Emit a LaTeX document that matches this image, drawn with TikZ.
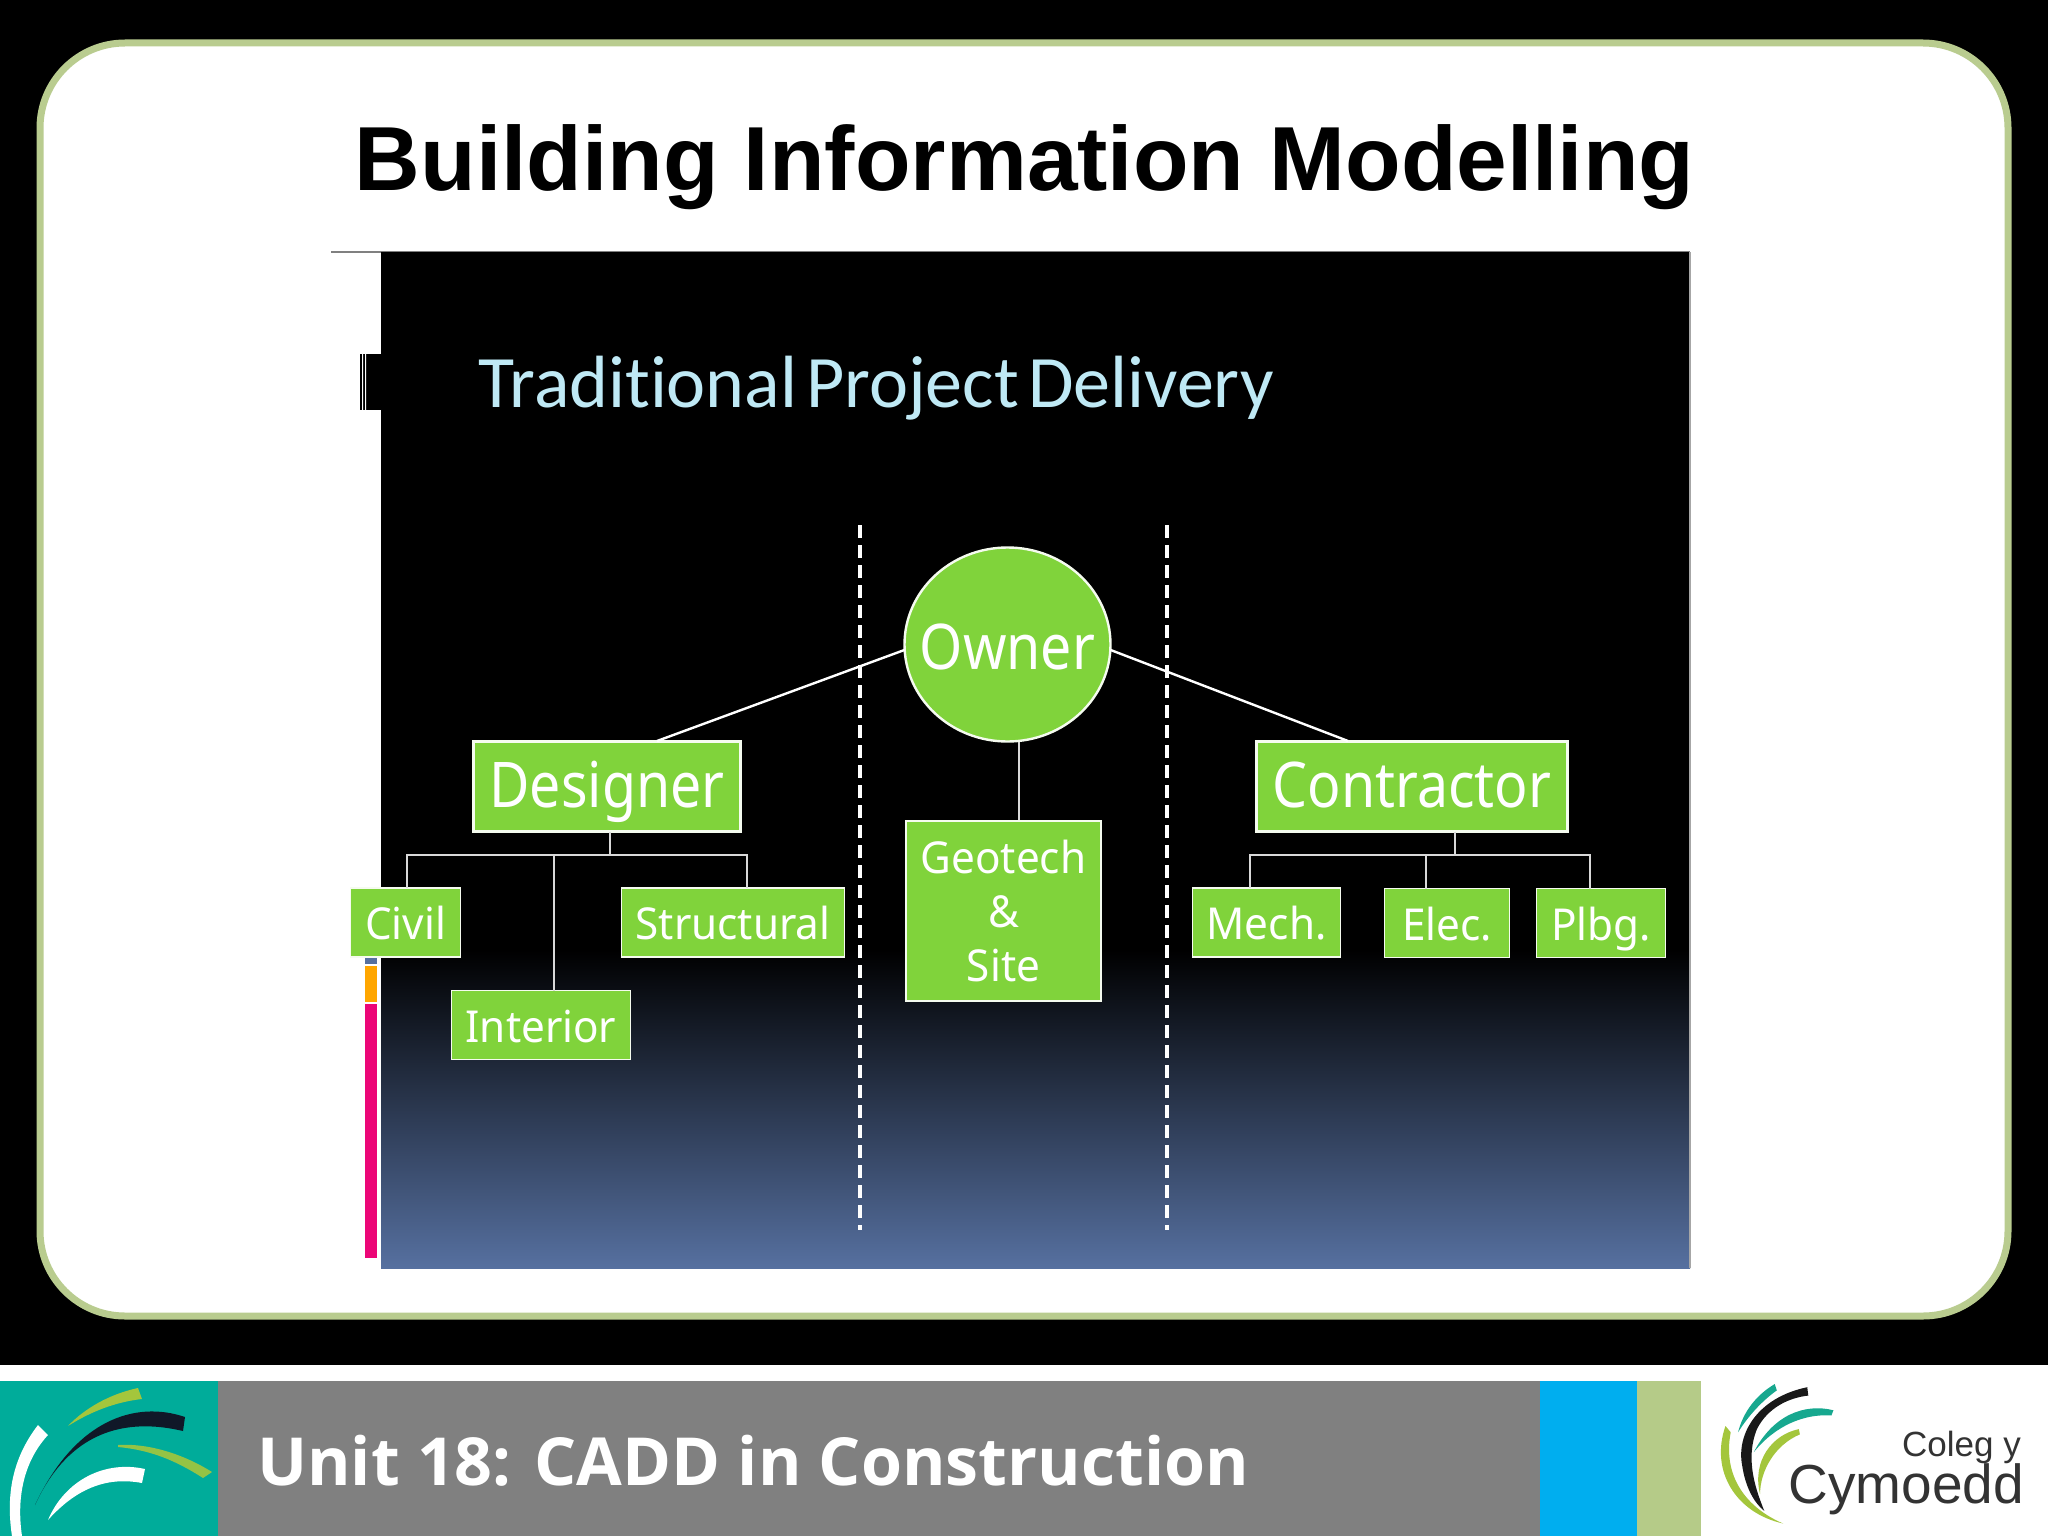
\documentclass[tikz,border=0pt]{standalone}
\usepackage{fontspec}
\usetikzlibrary{shapes.geometric}
\setmainfont{Liberation Sans}
\newfontfamily\boxfont[FakeStretch=0.96]{Noto Sans}
\newfontfamily\bigboxfont[FakeStretch=0.88]{Noto Sans}
\newfontfamily\headfont[Ligatures=NoCommon,WordSpace=0.55]{Carlito}
\newfontfamily\footfont{Open Sans}
\definecolor{panelline}{HTML}{B9CC8F}
\definecolor{boxgreen}{HTML}{80D33B}
\definecolor{paleblue}{HTML}{BFE9F5}
\definecolor{slidebot}{HTML}{5670A0}
\definecolor{teal}{HTML}{00AC9A}
\definecolor{footgray}{HTML}{808080}
\definecolor{footblue}{HTML}{00AEEF}
\definecolor{footgreen}{HTML}{B5CB88}
\definecolor{lime}{HTML}{A4C63C}
\definecolor{darkink}{HTML}{101828}
\definecolor{logoteal}{HTML}{17A88F}
\pgfdeclareverticalshading{slidegrad}{100bp}{color(0bp)=(slidebot); color(25bp)=(slidebot); color(75bp)=(black); color(100bp)=(black)}
\tikzset{
  box/.style={draw=white!92!boxgreen,fill=boxgreen,line width=1.8pt,text=white,inner sep=0pt,outer sep=0pt,align=center},
  bigbox/.style={box,line width=2.8pt,font=\bigboxfont\fontsize{63}{70}\selectfont,text height=41pt,text depth=0pt},
  smallbox/.style={box,font=\boxfont\fontsize{44}{54}\selectfont,text height=34pt,text depth=0pt},
  tallbox/.style={box,font=\boxfont\fontsize{44}{54}\selectfont},
  link/.style={draw=white,line width=2.4pt},
  thinlink/.style={draw=white!85!black,line width=2pt},
  divider/.style={draw=white,line width=3.2pt,dash pattern=on 13pt off 7pt},
}
\begin{document}
\begin{tikzpicture}[x=1pt,y=-1pt]
\useasboundingbox (0,0) rectangle (2048,1536);
\fill[black] (0,0) rectangle (2048,1536);
% panel
\draw[panelline,fill=white,line width=7pt,rounded corners=85pt] (40,43) rectangle (2008,1316);
\node[font=\bfseries\fontsize{91}{100}\selectfont,text=black,inner sep=0pt] (title) at (1024.5,167) {Building Information Modelling};
% embedded slide
\draw[gray,line width=1.5pt] (331,252) -- (1690,252);
\fill[black] (381,252) rectangle (1690,951);
\shade[shading=slidegrad] (381,950) rectangle (1690,1268);
\fill[gray!70] (1688.5,252) rectangle (1690.5,1268);
\fill[black] (360,354) rectangle (381,410);
\fill[white] (362,354) rectangle (363,410) (365,354) rectangle (366,410);
\fill[slidebot] (365,957) rectangle (377,964);
\fill[orange!70!yellow] (365,966) rectangle (377,1002);
\fill[magenta!80!red] (365,1004) rectangle (377,1258);
\node[font=\headfont\fontsize{74}{80}\selectfont,text=paleblue,inner sep=0pt,anchor=base west] (slidehead) at (478,407) {Traditional Project Delivery};
% dividers
\coordinate (dl1) at (860,525); \coordinate (dl2) at (860,1230);
\coordinate (dr1) at (1167,525); \coordinate (dr2) at (1167,1230);
\draw[divider] (dl1) -- (dl2);
\draw[divider] (dr1) -- (dr2);
% nodes
\node[bigbox,ellipse,minimum width=206pt,minimum height=194pt,line width=2.4pt,text height=50pt] (owner) at (1007.5,644.5) {\makebox[0pt]{Owner}};
\node[bigbox,minimum width=267pt,minimum height=90pt] (designer) at (607,786.5) {Designer};
\node[bigbox,minimum width=311pt,minimum height=90pt] (contractor) at (1412,786.5) {Contractor};
\node[tallbox,minimum width=195pt,minimum height=180pt] (geotech) at (1003.5,911) {Geotech\\\&\\Site};
\node[smallbox,minimum width=110pt,minimum height=69pt] (civil) at (405.5,922.5) {Civil};
\node[smallbox,minimum width=223pt,minimum height=69pt] (structural) at (733,922.5) {Structural};
\node[smallbox,minimum width=179pt,minimum height=69pt] (interior) at (541,1025) {Interior};
\node[smallbox,minimum width=148pt,minimum height=69pt] (mech) at (1266.5,922.5) {Mech.};
\node[smallbox,minimum width=125pt,minimum height=69pt] (elec) at (1447,923) {Elec.};
\node[smallbox,minimum width=129pt,minimum height=69pt] (plbg) at (1601,923) {Plbg.};
% connectors
\coordinate (dtop) at (657,741);
\coordinate (ctop) at (1348,741);
\coordinate (dbus) at (610,855);
\coordinate (cbus) at (1455,855);
\coordinate (bc) at (407,855);
\coordinate (bi) at (554,855);
\coordinate (bs) at (747,855);
\coordinate (bm) at (1250,855);
\coordinate (be) at (1426,855);
\coordinate (bp) at (1590,855);
\coordinate (gstem) at (1019,820);
\draw[link] (owner.183) -- (dtop);
\draw[link] (owner.357) -- (ctop);
\draw[thinlink] (gstem |- owner.south) -- (gstem);
\draw[thinlink] (dbus |- designer.south) -- (dbus);
\draw[thinlink] (bc |- civil.north) -- (bc) -- (bs) -- (bs |- structural.north);
\draw[thinlink] (bi) -- (bi |- interior.north);
\draw[thinlink] (cbus |- contractor.south) -- (cbus);
\draw[thinlink] (bm |- mech.north) -- (bm) -- (bp) -- (bp |- plbg.north);
\draw[thinlink] (be) -- (be |- elec.north);
% footer
\fill[white] (0,1365) rectangle (2048,1536);
\fill[teal] (0,1381) rectangle (218,1536);
\fill[footgray] (218,1381) rectangle (1540,1536);
\fill[footblue] (1540,1381) rectangle (1637,1536);
\fill[footgreen] (1637,1381) rectangle (1701,1536);
\node[font=\footfont\bfseries\fontsize{66.3}{80}\selectfont,text=white,inner sep=0pt,anchor=base west] (foot) at (257,1485) {Unit 18: CADD in Construction};
% left logo
\begin{scope}
\clip (0,1381) rectangle (218,1536);
\fill[white] (38,1425) .. controls (15,1455) and (5,1490) .. (12,1536) -- (22,1536) .. controls (16,1495) and (25,1460) .. (48,1435) -- cycle;
\fill[darkink] (185,1417) .. controls (135,1400) and (75,1420) .. (35,1505) .. controls (65,1440) and (115,1415) .. (183,1431) -- cycle;
\fill[lime] (138,1388) .. controls (110,1394) and (85,1408) .. (68,1426) .. controls (90,1412) and (115,1402) .. (142,1399) -- cycle;
\fill[lime!90!teal] (118,1445) .. controls (150,1443) and (185,1455) .. (212,1472) -- (203,1478) .. controls (175,1460) and (150,1450) .. (118,1447) -- cycle;
\fill[white] (145,1469) .. controls (105,1460) and (65,1480) .. (48,1520) .. controls (75,1490) and (105,1476) .. (142,1483) -- cycle;
\end{scope}
% right logo
\begin{scope}[shift={(1500,1340)},scale=1.0486,shift={(-1500,-1340)}]
\fill[black!90] (1793,1385) .. controls (1745,1395) and (1725,1430) .. (1731,1460) .. controls (1734,1480) and (1742,1495) .. (1752,1503) .. controls (1745,1485) and (1733,1455) .. (1745,1425) .. controls (1755,1405) and (1775,1395) .. (1794,1393) -- cycle;
\fill[logoteal] (1762,1382) .. controls (1745,1392) and (1732,1408) .. (1727,1428) .. controls (1737,1412) and (1750,1398) .. (1764,1388) -- cycle;
\fill[logoteal] (1818,1407) .. controls (1790,1400) and (1760,1412) .. (1742,1447) .. controls (1762,1422) and (1790,1410) .. (1816,1412) -- cycle;
\fill[lime] (1785,1425) .. controls (1760,1430) and (1740,1455) .. (1748,1487) .. controls (1748,1465) and (1762,1440) .. (1786,1430) -- cycle;
\fill[lime] (1715,1422) .. controls (1700,1465) and (1725,1505) .. (1770,1515) .. controls (1735,1500) and (1712,1470) .. (1720,1428) -- cycle;
\end{scope}
\node[font=\fontsize{35}{40}\selectfont,text=black!80,inner sep=0pt,anchor=base east] (coleg) at (2021,1456) {Coleg y};
\node[font=\fontsize{55}{60}\selectfont,text=black!80,inner sep=0pt,anchor=base east] (cymoedd) at (2024,1503) {Cymoedd};
\end{tikzpicture}
\end{document}
